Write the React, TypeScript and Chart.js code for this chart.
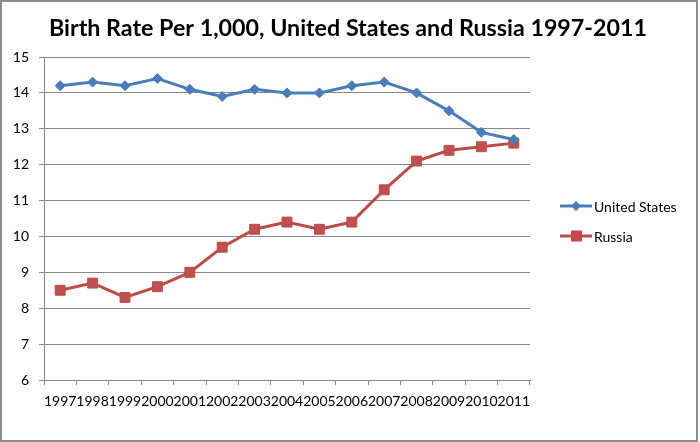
import { useEffect, useRef } from 'react';
import { Chart, registerables } from 'chart.js';

Chart.register(...registerables);

const titleText = 'Birth Rate Per 1,000, United States and Russia 1997-2011';
const years = ['1997', '1998', '1999', '2000', '2001', '2002', '2003', '2004', '2005', '2006', '2007', '2008', '2009', '2010', '2011'];
const unitedStates = [14.2, 14.3, 14.2, 14.4, 14.1, 13.9, 14.1, 14.0, 14.0, 14.2, 14.3, 14.0, 13.5, 12.9, 12.7];
const russia = [8.5, 8.7, 8.3, 8.6, 9.0, 9.7, 10.2, 10.4, 10.2, 10.4, 11.3, 12.1, 12.4, 12.5, 12.6];
const seriesNames = ['United States', 'Russia'];
const yMin = 6;
const yMax = 15;
const yStep = 1;

const BLUE = '#4A7EBB';
const RED = '#BE4B48';
const GRID = '#868686';
const FONT = 'Lato, "Open Sans", sans-serif';

const decorPlugin = {
  id: 'decor',
  afterDraw(chart: any) {
    const ctx = chart.ctx as CanvasRenderingContext2D;
    ctx.save();
    // outer border
    ctx.strokeStyle = '#8c8c8c';
    ctx.lineWidth = 2;
    ctx.strokeRect(1, 1, 696, 440);

    // title
    ctx.fillStyle = '#000';
    ctx.textBaseline = 'alphabetic';
    ctx.textAlign = 'left';
    let size = 22;
    ctx.font = `bold ${size}px ${FONT}`;
    const w = ctx.measureText(titleText).width;
    size = size * (598 / w);
    ctx.font = `bold ${size}px ${FONT}`;
    ctx.fillText(titleText, 49, 36);

    // legend
    const items = [
      { name: seriesNames[0], color: BLUE, style: 'rectRot', y: 206, r: 5 },
      { name: seriesNames[1], color: RED, style: 'rect', y: 236, r: 7 },
    ];
    ctx.font = `14px ${FONT}`;
    ctx.textBaseline = 'middle';
    for (const it of items) {
      ctx.strokeStyle = it.color;
      ctx.lineWidth = 3;
      ctx.beginPath();
      ctx.moveTo(560, it.y);
      ctx.lineTo(592, it.y);
      ctx.stroke();
      ctx.fillStyle = it.color;
      ctx.lineWidth = 1;
      (Chart as any).helpers?.drawPoint;
      const helpers = (Chart as any).helpers;
      if (it.style === 'rect') {
        ctx.fillRect(571, it.y - 5.5, 11, 11);
      } else {
        ctx.beginPath();
        ctx.moveTo(576, it.y - 5);
        ctx.lineTo(581, it.y);
        ctx.lineTo(576, it.y + 5);
        ctx.lineTo(571, it.y);
        ctx.closePath();
        ctx.fill();
      }
      ctx.fillStyle = '#000';
      ctx.fillText(it.name, 594, it.y + 1);
    }
    ctx.restore();
  },
};

export default function App() {
  const ref = useRef<HTMLCanvasElement | null>(null);
  useEffect(() => {
    if (!ref.current) return;
    const chart = new Chart(ref.current, {
      type: 'line',
      data: {
        labels: years,
        datasets: [
          {
            label: seriesNames[0],
            data: unitedStates,
            borderColor: BLUE,
            backgroundColor: BLUE,
            borderWidth: 3,
            pointStyle: 'rectRot',
            pointRadius: 5,
            pointBorderWidth: 1,
            pointBackgroundColor: BLUE,
            pointBorderColor: BLUE,
            tension: 0,
          },
          {
            label: seriesNames[1],
            data: russia,
            borderColor: RED,
            backgroundColor: RED,
            borderWidth: 3,
            pointStyle: 'rect',
            pointRadius: 7,
            pointBorderWidth: 1,
            pointBackgroundColor: '#C0504D',
            pointBorderColor: RED,
            tension: 0,
          },
        ],
      },
      options: {
        responsive: false,
        animation: false,
        layout: { padding: { top: 57, right: 170, left: 0, bottom: 0 } },
        plugins: {
          legend: { display: false },
          title: { display: false },
          tooltip: { enabled: false },
        },
        scales: {
          x: {
            offset: true,
            grid: {
              offset: true,
              drawOnChartArea: false,
              drawTicks: true,
              tickLength: 5,
              color: GRID,
            },
            border: { color: GRID, width: 1 },
            ticks: {
              autoSkip: false,
              maxRotation: 0,
              minRotation: 0,
              padding: 8,
              color: '#000',
              font: { family: FONT, size: 14 },
            },
            afterFit: (s: any) => {
              s.height = 62;
            },
          },
          y: {
            min: yMin,
            max: yMax,
            ticks: {
              stepSize: yStep,
              padding: 10,
              color: '#000',
              font: { family: FONT, size: 14 },
            },
            grid: { color: GRID, tickLength: 5, lineWidth: 1 },
            border: { color: GRID, width: 1 },
            afterFit: (s: any) => {
              s.width = 44;
            },
          },
        },
      },
      plugins: [decorPlugin],
    });
    return () => chart.destroy();
  }, []);
  return (
    <div style={{ position: 'fixed', left: 0, top: 0, width: 700, height: 442, background: '#fff' }}>
      <canvas ref={ref} width={700} height={442} style={{ display: 'block' }} />
    </div>
  );
}
